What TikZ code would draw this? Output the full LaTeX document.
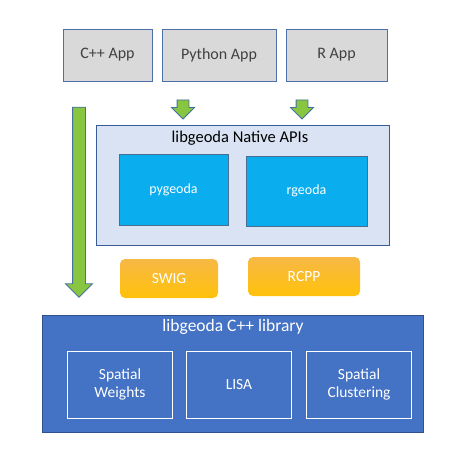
\documentclass[tikz,border=0pt]{standalone}
\usepackage{fontspec}
\setmainfont{Carlito}
\usetikzlibrary{shapes.arrows}

\definecolor{appgrey}{HTML}{D9D9D9}
\definecolor{appline}{HTML}{4F6FA8}
\definecolor{apiback}{HTML}{DAE3F3}
\definecolor{apiline}{HTML}{3A5A98}
\definecolor{pyblue}{HTML}{0AAEEE}
\definecolor{pyline}{HTML}{4A6E8E}
\definecolor{libblue}{HTML}{4472C4}
\definecolor{libline}{HTML}{2F528F}
\definecolor{goldtop}{HTML}{F7B846}
\definecolor{goldbot}{HTML}{FFC20A}
\definecolor{arrowgreen}{HTML}{88C540}
\definecolor{arrowline}{HTML}{44719C}

\begin{document}
\begin{tikzpicture}[x=1pt,y=-1pt,
    app/.style = {draw=appline, line width=1pt, fill=appgrey, minimum height=52pt,
                  text=black!75, font=\fontsize{16}{19}\selectfont},
    wrapper/.style = {draw=apiline, line width=1pt, fill=apiback},
    binding/.style = {draw=pyline, line width=1pt, fill=pyblue, text=white,
                      font=\fontsize{14}{17}\selectfont},
    glue/.style = {rounded corners=5pt, top color=goldtop, bottom color=goldbot,
                   minimum height=39pt, text=white, font=\fontsize{15.5}{18}\selectfont},
    core/.style = {draw=libline, line width=1pt, fill=libblue},
    module/.style = {draw=white, line width=1pt, minimum width=105pt, minimum height=67pt,
                     text=white, align=center, font=\fontsize{15.5}{18}\selectfont},
    flow/.style = {single arrow, draw=arrowline, line width=0.8pt, fill=arrowgreen,
                   rotate=-90, inner xsep=0pt, single arrow head indent=0pt}]
    \useasboundingbox (0,0) rectangle (474,456);

    % applications
    \node[app, minimum width=89pt]  (cpp) at (107.5,55) {C++ App};
    \node[app, minimum width=114pt] (py)  at (219,55)   {Python App};
    \node[app, minimum width=101pt] (r)   at (336.5,55) {R App};

    % native APIs
    \node[wrapper, minimum width=293pt, minimum height=120pt] (native) at (242.5,185) {};
    \node[font=\fontsize{16.5}{19}\selectfont] (nativetitle) at (240,138) {libgeoda Native APIs};
    \node[binding, minimum width=109pt, minimum height=71pt] (pygeoda) at (173.5,189.5) {pygeoda};
    \node[binding, minimum width=121pt, minimum height=70pt] (rgeoda)  at (306.5,191)   {rgeoda};

    % wrappers
    \node[glue, minimum width=98pt]  (swig) at (169,278.5) {SWIG};
    \node[glue, minimum width=112pt] (rcpp) at (304,276.5) {RCPP};

    % C++ library
    \node[core, minimum width=381pt, minimum height=117pt] (lib) at (232.5,373.5) {};
    \node[text=white, font=\fontsize{17.5}{20}\selectfont] (libtitle) at (233,327) {libgeoda C++ library};
    \node[module] (weights) at (120,384.5) {Spatial\\Weights};
    \node[module] (lisa)    at (239,384.5) {LISA};
    \node[module] (cluster) at (359,384.5) {Spatial\\Clustering};

    % arrows
    \node[flow, minimum height=190pt, inner ysep=6pt, single arrow head extend=7pt] (direct) at (79,199) {};
    \node[flow, minimum height=19pt, inner ysep=5.5pt, single arrow head extend=5.5pt] (pydown) at (183,106.5) {};
    \node[flow, minimum height=19pt, inner ysep=5.5pt, single arrow head extend=5.5pt] (rdown)  at (302,106.5) {};
\end{tikzpicture}
\end{document}
